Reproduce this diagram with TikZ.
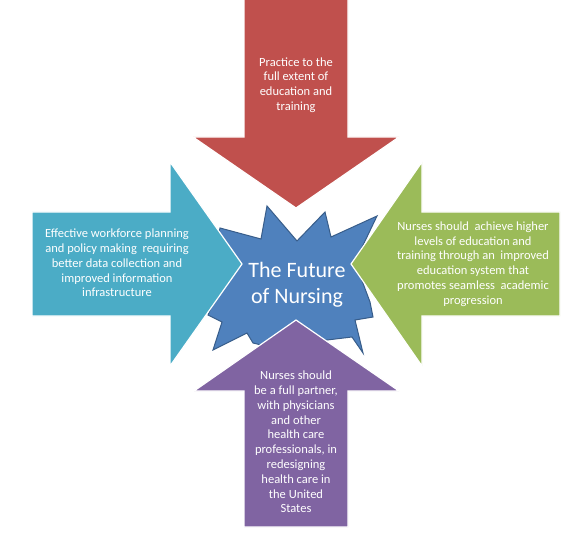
\documentclass[tikz,border=0pt]{standalone}
\usepackage{fontspec}
\setmainfont{Carlito}
\definecolor{ared}{HTML}{C0504D}
\definecolor{acyan}{HTML}{4BACC6}
\definecolor{agreen}{HTML}{9BBB59}
\definecolor{apurple}{HTML}{8064A2}
\definecolor{sfill}{HTML}{4F81BD}
\definecolor{sline}{HTML}{385D8A}
\tikzset{
  arrowshape/.style={draw=white, line width=1.2pt, line join=miter},
  starshape/.style={fill=sfill, draw=sline, line width=1pt, line join=miter},
  smalltext/.style={text=white, font=\fontsize{12.5}{14.8}\selectfont, align=center, inner sep=0pt},
  startext/.style={text=white, font=\fontsize{22}{26}\selectfont, align=center, inner sep=0pt},
}
\begin{document}
\begin{tikzpicture}[x=1pt,y=-1pt]
\useasboundingbox (0,0) rectangle (583,537);
\fill[white] (0,0) rectangle (583,537);
% central explosion
\draw[starshape] (220,228) -- (261,239) -- (267,206) -- (297,241) -- (325,212) -- (331,237)
  -- (377,216) -- (355,262) -- (370,302) -- (373,317) -- (355,320) -- (363,353) -- (352,337)
  -- (327,340) -- (290,352) -- (253,343) -- (247,333) -- (213,350) -- (222,322) -- (208,315)
  -- (225,275) -- (215,250) -- cycle;
% top arrow (red, pointing down)
\fill[ared, arrowshape] (244,-2) -- (348,-2) -- (348,137) -- (399,137) -- (296,208) -- (193,137) -- (244,137) -- cycle;
% left arrow (cyan, pointing right)
\fill[acyan, arrowshape] (32,212) -- (170,212) -- (170,162) -- (242,264) -- (170,366) -- (170,316) -- (32,316) -- cycle;
% right arrow (green, pointing left)
\fill[agreen, arrowshape] (560,212) -- (422,212) -- (422,162) -- (351,264) -- (422,366) -- (422,316) -- (560,316) -- cycle;
% bottom arrow (purple, pointing up)
\fill[apurple, arrowshape] (244,527) -- (348,527) -- (348,391) -- (399,391) -- (296,320) -- (194,391) -- (244,391) -- cycle;
% texts
\node[startext] (center) at (297,285) {The Future\\of Nursing};
\node[smalltext] (top) at (296,85) {Practice to the\\full extent of\\education and\\training};
\node[smalltext] (left) at (117,263) {Effective workforce planning\\and policy making~ requiring\\better data collection and\\improved information\\infrastructure};
\node[smalltext] (right) at (473,264) {Nurses should~ achieve higher\\levels of education and\\training through an~ improved\\education system that\\promotes seamless~ academic\\progression};
\node[smalltext] (bottom) at (296,442) {Nurses should\\be a full partner,\\with physicians\\and other\\health care\\professionals, in\\redesigning\\health care in\\the United\\States};
\end{tikzpicture}
\end{document}
